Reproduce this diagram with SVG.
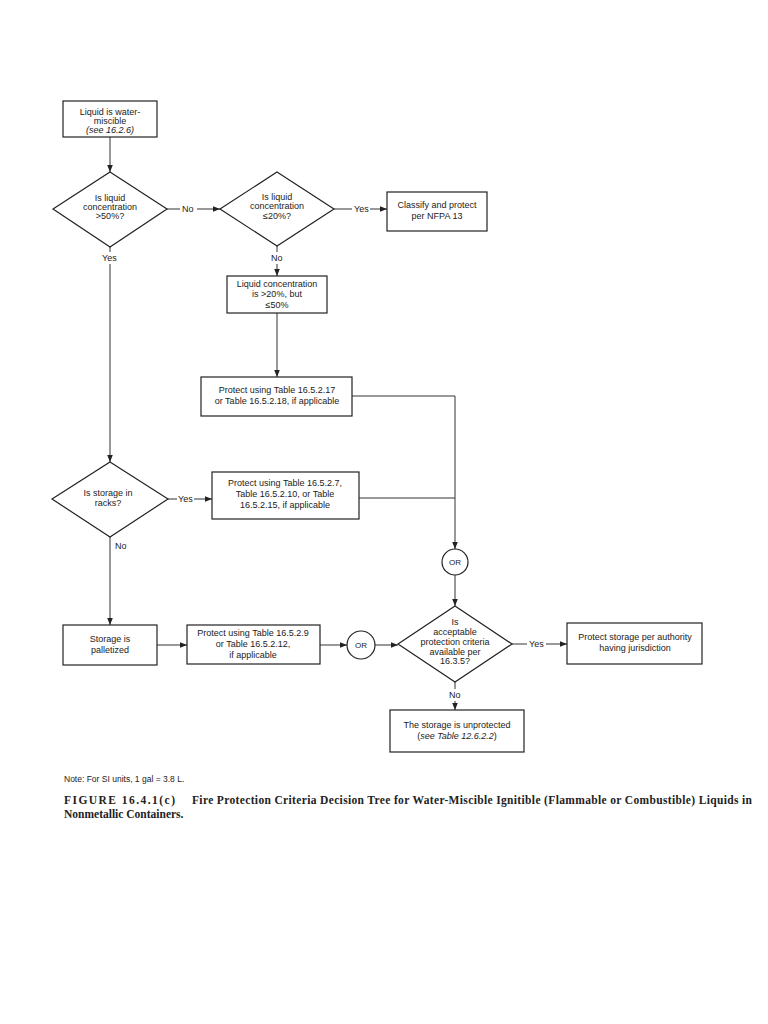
<svg xmlns="http://www.w3.org/2000/svg" width="768" height="1024" viewBox="0 0 768 1024">
<defs>
<marker id="ah" viewBox="0 0 10 10" refX="10" refY="5" markerWidth="7" markerHeight="7" orient="auto" markerUnits="userSpaceOnUse">
<path d="M0,1 L10,5 L0,9 Z" fill="#222"/>
</marker>
<style>
.n{fill:#fff;stroke:#222;stroke-width:1.2}
.c{fill:none;stroke:#333;stroke-width:1}
.t{font-family:"Liberation Sans",Arial,sans-serif;font-size:9px;fill:#222;text-anchor:middle}
.i{font-style:italic}
.l{font-family:"Liberation Sans",Arial,sans-serif;font-size:9px;fill:#222}
.cap{font-family:"Liberation Serif","Times New Roman",serif;font-size:11.5px;font-weight:bold;fill:#222}
</style>
</defs>
<rect width="768" height="1024" fill="#fff"/>
<g id="connectors">
<line class="c" x1="110" y1="137" x2="110" y2="172" marker-end="url(#ah)"/>
<line class="c" x1="167" y1="209" x2="180" y2="209"/>
<line class="c" x1="197" y1="209" x2="220" y2="209" marker-end="url(#ah)"/>
<line class="c" x1="334" y1="209" x2="352" y2="209"/>
<line class="c" x1="370" y1="209" x2="387" y2="209" marker-end="url(#ah)"/>
<line class="c" x1="277" y1="246" x2="277" y2="252"/>
<line class="c" x1="277" y1="264" x2="277" y2="276" marker-end="url(#ah)"/>
<line class="c" x1="277" y1="313" x2="277" y2="377" marker-end="url(#ah)"/>
<line class="c" x1="110" y1="247" x2="110" y2="252"/>
<line class="c" x1="110" y1="264" x2="110" y2="462" marker-end="url(#ah)"/>
<line class="c" x1="168" y1="499" x2="177" y2="499"/>
<line class="c" x1="194" y1="499" x2="212" y2="499" marker-end="url(#ah)"/>
<polyline class="c" points="352,396 455,396 455,549" marker-end="url(#ah)"/>
<line class="c" x1="359" y1="498" x2="455" y2="498"/>
<line class="c" x1="455" y1="575" x2="455" y2="606" marker-end="url(#ah)"/>
<line class="c" x1="110" y1="537" x2="110" y2="625" marker-end="url(#ah)"/>
<line class="c" x1="157" y1="645" x2="187" y2="645" marker-end="url(#ah)"/>
<line class="c" x1="320" y1="645" x2="347" y2="645" marker-end="url(#ah)"/>
<line class="c" x1="375" y1="645" x2="398" y2="645" marker-end="url(#ah)"/>
<line class="c" x1="512" y1="644" x2="527" y2="644"/>
<line class="c" x1="546" y1="644" x2="567" y2="644" marker-end="url(#ah)"/>
<line class="c" x1="455" y1="682" x2="455" y2="689"/>
<line class="c" x1="455" y1="701" x2="455" y2="710" marker-end="url(#ah)"/>
</g>
<g id="labels">
<text class="l" x="182" y="212">No</text>
<text class="l" x="354" y="212">Yes</text>
<text class="l" x="271" y="261">No</text>
<text class="l" x="102" y="261">Yes</text>
<text class="l" x="178" y="502">Yes</text>
<text class="l" x="115" y="549">No</text>
<text class="l" x="529" y="647">Yes</text>
<text class="l" x="449" y="698">No</text>
</g>
<g id="start">
<rect class="n" x="63" y="101" width="94" height="36"/>
<text class="t" x="110" y="115">Liquid is water-</text>
<text class="t" x="110" y="124">miscible</text>
<text class="t i" x="110" y="133">(see 16.2.6)</text>
</g>
<g id="d1">
<polygon class="n" points="110,172 167,209 110,247 53,209"/>
<text class="t" x="110" y="201">Is liquid</text>
<text class="t" x="110" y="210">concentration</text>
<text class="t" x="110" y="219">&gt;50%?</text>
</g>
<g id="d2">
<polygon class="n" points="277,172 334,209 277,246 220,209"/>
<text class="t" x="277" y="200">Is liquid</text>
<text class="t" x="277" y="209">concentration</text>
<text class="t" x="277" y="219">≤20%?</text>
</g>
<g id="classify">
<rect class="n" x="387" y="192" width="100" height="39"/>
<text class="t" x="437" y="208">Classify and protect</text>
<text class="t" x="437" y="219">per NFPA 13</text>
</g>
<g id="conc">
<rect class="n" x="227" y="276" width="100" height="37"/>
<text class="t" x="277" y="287">Liquid concentration</text>
<text class="t" x="277" y="297">is &gt;20%, but</text>
<text class="t" x="277" y="308">≤50%</text>
</g>
<g id="p17">
<rect class="n" x="201" y="377" width="151" height="39"/>
<text class="t" x="277" y="393">Protect using Table 16.5.2.17</text>
<text class="t" x="277" y="404">or Table 16.5.2.18, if applicable</text>
</g>
<g id="d3">
<polygon class="n" points="110,462 168,499 110,537 52,499"/>
<text class="t" x="108" y="496">Is storage in</text>
<text class="t" x="108" y="506">racks?</text>
</g>
<g id="p7">
<rect class="n" x="212" y="472" width="147" height="47"/>
<text class="t" x="285" y="486">Protect using Table 16.5.2.7,</text>
<text class="t" x="285" y="497">Table 16.5.2.10, or Table</text>
<text class="t" x="285" y="508">16.5.2.15, if applicable</text>
</g>
<g id="or1">
<circle class="n" cx="455" cy="562" r="13"/>
<text class="t" x="455" y="565" style="font-size:8px">OR</text>
</g>
<g id="pallet">
<rect class="n" x="63" y="625" width="94" height="40"/>
<text class="t" x="110" y="642">Storage is</text>
<text class="t" x="110" y="653">palletized</text>
</g>
<g id="p9">
<rect class="n" x="187" y="625" width="133" height="39"/>
<text class="t" x="253" y="636">Protect using Table 16.5.2.9</text>
<text class="t" x="253" y="647">or Table 16.5.2.12,</text>
<text class="t" x="253" y="658">if applicable</text>
</g>
<g id="or2">
<circle class="n" cx="361" cy="645" r="14"/>
<text class="t" x="361" y="648" style="font-size:8px">OR</text>
</g>
<g id="d4">
<polygon class="n" points="455,606 512,644 455,682 398,644"/>
<text class="t" x="455" y="625">Is</text>
<text class="t" x="455" y="635">acceptable</text>
<text class="t" x="455" y="645">protection criteria</text>
<text class="t" x="455" y="655">available per</text>
<text class="t" x="455" y="664">16.3.5?</text>
</g>
<g id="ahj">
<rect class="n" x="567" y="623" width="135" height="41"/>
<text class="t" x="635" y="640">Protect storage per authority</text>
<text class="t" x="635" y="651">having jurisdiction</text>
</g>
<g id="unprot">
<rect class="n" x="390" y="710" width="134" height="42"/>
<text class="t" x="457" y="728">The storage is unprotected</text>
<text class="t" x="457" y="739">(<tspan class="i">see Table 12.6.2.2</tspan>)</text>
</g>
<text class="l" x="64" y="782" style="font-size:8.5px">Note: For SI units, 1 gal = 3.8 L.</text>
<text class="cap" x="64" y="804" textLength="111" lengthAdjust="spacing">FIGURE 16.4.1(c)</text>
<text class="cap" x="192" y="804" textLength="560" lengthAdjust="spacing">Fire Protection Criteria Decision Tree for Water-Miscible Ignitible (Flammable or Combustible) Liquids in</text>
<text class="cap" x="64" y="818">Nonmetallic Containers.</text>
</svg>
